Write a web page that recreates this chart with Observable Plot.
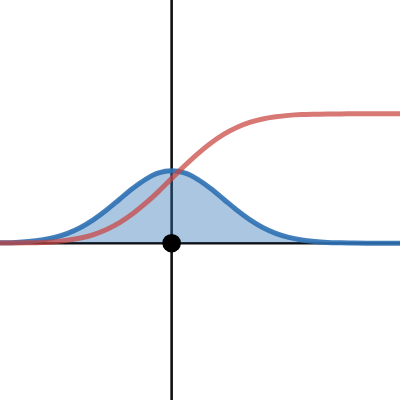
<!DOCTYPE html>
<html>
<head>
<meta charset="utf-8">
<script src="https://cdn.jsdelivr.net/npm/d3@7"></script>
<script src="https://cdn.jsdelivr.net/npm/@observablehq/plot@0.6"></script>
<style>
  html, body { margin: 0; padding: 0; background: #fff; }
  #chart svg { display: block; }
</style>
</head>
<body>
<div id="chart"></div>
<script>
// x positions (in standard deviations from the mean)
const xs = [-3.5, -3.25, -3.0, -2.75, -2.5, -2.25, -2.0, -1.75, -1.5, -1.25, -1.0, -0.75, -0.5, -0.25,
            0, 0.25, 0.5, 0.75, 1.0, 1.25, 1.5, 1.75, 2.0, 2.25, 2.5, 2.75, 3.0, 3.25, 3.5, 3.75, 4.0, 4.25, 4.5];
// density curve (blue)
const pdf = [0.001, 0.003, 0.006, 0.013, 0.025, 0.045, 0.076, 0.121, 0.182, 0.256, 0.340, 0.423, 0.494, 0.543,
             0.560, 0.543, 0.494, 0.423, 0.340, 0.256, 0.182, 0.121, 0.076, 0.045, 0.025, 0.013, 0.006, 0.003, 0.001, 0, 0, 0, 0];
// cumulative curve (red)
const cdf = [0.0002, 0.0006, 0.0013, 0.003, 0.006, 0.012, 0.023, 0.040, 0.067, 0.106, 0.159, 0.227, 0.309, 0.401,
             0.500, 0.599, 0.691, 0.773, 0.841, 0.894, 0.933, 0.960, 0.977, 0.988, 0.994, 0.997, 0.999, 0.9994, 0.9998, 1, 1, 1, 1];
// highlighted point
const pointX = [0];
const pointY = [0];

const rows = xs.map((x, i) => ({x, pdf: pdf[i], cdf: cdf[i]}));
const pts = pointX.map((x, i) => ({x, y: pointY[i]}));

const chart = Plot.plot({
  width: 400,
  height: 400,
  margin: 0,
  x: {domain: [-3.29, 4.40], axis: null},
  y: {domain: [-1.216, 1.876], axis: null},
  marks: [
    Plot.ruleX([0], {stroke: "#111", strokeWidth: 2.6}),
    Plot.ruleY([0], {stroke: "#111", strokeWidth: 2.6}),
    Plot.areaY(rows, {x: "x", y1: 0, y2: "pdf", fill: "#2d70b3", fillOpacity: 0.4, curve: "monotone-x", clip: true}),
    Plot.line(rows, {x: "x", y: "pdf", stroke: "#2d70b3", strokeOpacity: 0.9, strokeWidth: 5, curve: "monotone-x", clip: true}),
    Plot.line(rows, {x: "x", y: "cdf", stroke: "#c74440", strokeOpacity: 0.72, strokeWidth: 5, curve: "monotone-x", clip: true}),
    Plot.dot(pts, {x: "x", y: "y", r: 9.3, fill: "#000", stroke: "none"})
  ]
});
document.getElementById("chart").appendChild(chart);
</script>
</body>
</html>
